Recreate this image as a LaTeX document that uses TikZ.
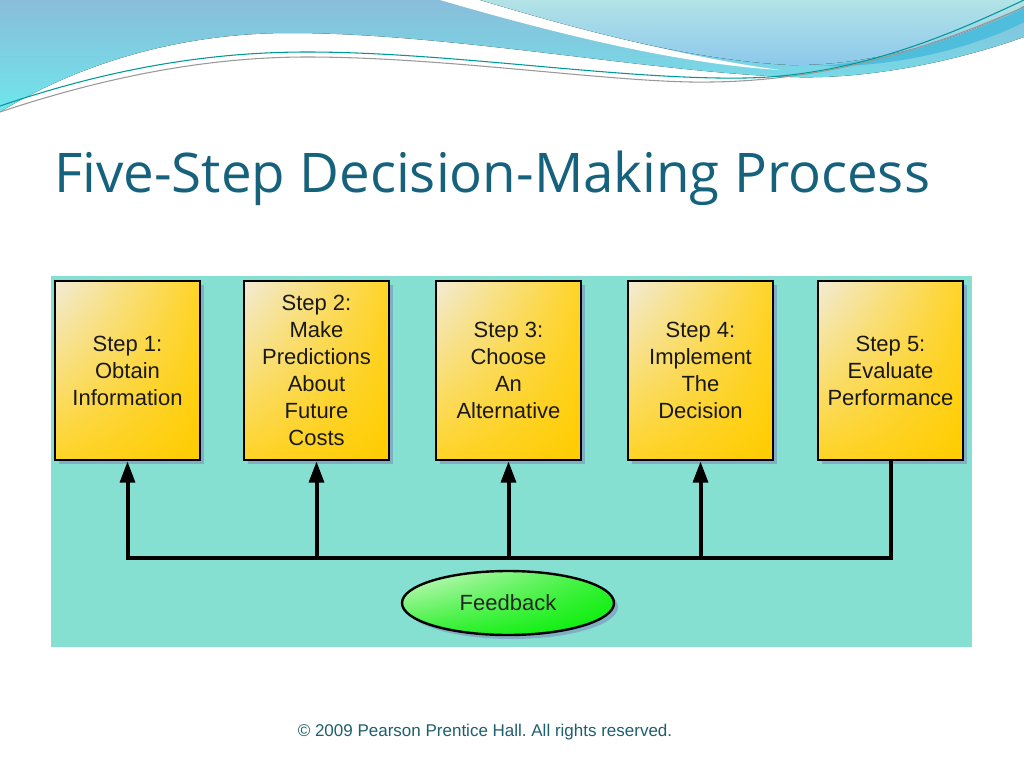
\documentclass[tikz,border=0pt]{standalone}
\usepackage{fontspec}
\setmainfont{Liberation Sans}
\newfontfamily\titlefont{Open Sans}
\usetikzlibrary{shapes.geometric,shadows,shadings,arrows.meta}
\frenchspacing
\definecolor{panel}{HTML}{85E0D2}
\definecolor{gold}{HTML}{FFCC00}
\definecolor{goldlight}{HTML}{F2EBD6}
\definecolor{lime}{HTML}{00EE00}
\definecolor{limelight}{HTML}{D8F8D0}
\definecolor{shadowblue}{HTML}{7FA3C0}
\definecolor{titleblue}{HTML}{16627C}
\definecolor{footteal}{HTML}{1E5F6E}
\definecolor{waveA}{HTML}{89BDDA}
\definecolor{waveB}{HTML}{6EE6EC}
\definecolor{waveC}{HTML}{B2E3E6}
\definecolor{waveD}{HTML}{8CC8EC}
\definecolor{band}{HTML}{4FBEDC}
\tikzset{
    stepbox/.style={draw=black, line width=1.8pt, minimum width=108.75pt, minimum height=134.25pt,
        inner sep=0pt, align=center, font=\fontsize{16.5}{20.25}\selectfont, text=black!90,
        upper left=goldlight, upper right=gold!85!white, lower left=gold!85!white, lower right=gold,
        drop shadow={shadow xshift=3pt, shadow yshift=-3pt, fill=shadowblue, opacity=0.8}},
    feednode/.style={ellipse, draw=black, line width=1.8pt, minimum width=159pt, minimum height=48pt,
        inner sep=0pt, font=\fontsize{16.5}{20}\selectfont, text=black!85,
        upper left=limelight, upper right=lime!80!white, lower left=lime!80!white, lower right=lime,
        drop shadow={shadow xshift=3pt, shadow yshift=-3pt, fill=shadowblue, opacity=0.8}},
    busline/.style={line width=3pt, line cap=rect},
    uparrow/.style={line width=3pt, -{Triangle[length=16pt,width=11pt]}}
}
\begin{document}
\begin{tikzpicture}[x=0.75pt, y=-0.75pt]
    \useasboundingbox (0,0) rectangle (1024,768);
    \fill[white] (0,0) rectangle (1024,768);
    % waves at the top
    \fill[top color=waveA, bottom color=waveB] (0,0) -- (1024,0) -- (1024,37)
        .. controls (960,60) and (870,80) .. (790,77)
        .. controls (650,72) and (450,33) .. (290,33)
        .. controls (160,33) and (60,75) .. (0,112) -- cycle;
    \fill[white] (440,0) .. controls (560,35) and (680,64) .. (780,70)
        .. controls (690,58) and (580,30) .. (480,0) -- cycle;
    \fill[top color=waveC, bottom color=waveD] (480,0) .. controls (580,30) and (690,60) .. (790,65)
        .. controls (880,66) and (970,35) .. (1024,6) -- (1024,0) -- cycle;
    \fill[band] (820,66) .. controls (900,60) and (980,30) .. (1024,8)
        -- (1024,22) .. controls (980,45) and (900,68) .. (820,66) -- cycle;
    \draw[color=teal!80!cyan, line width=0.8pt] (0,106) .. controls (120,65) and (220,52) .. (307,52)
        .. controls (450,52) and (620,80) .. (745,78) .. controls (860,76) and (960,30) .. (1024,0);
    \draw[color=gray!80, line width=0.8pt] (0,112) .. controls (120,72) and (220,57) .. (307,57)
        .. controls (450,57) and (620,84) .. (712,82) .. controls (850,80) and (960,35) .. (1024,7);
    % title
    \node[anchor=base west, inner sep=0pt, text=titleblue, font=\titlefont\fontsize{41}{50}\selectfont]
        (title) at (54,192) {Five-Step Decision-Making Process};
    % panel
    \fill[panel] (51,276) rectangle (972,647);
    \foreach \i/\x/\t in {1/127.5/{Step 1:\\Obtain\\Information},
        2/316.5/{Step 2:\\Make\\Predictions\\About\\Future\\Costs},
        3/508.5/{Step 3:\\Choose\\An\\Alternative},
        4/700.5/{Step 4:\\Implement\\The\\Decision},
        5/890.5/{Step 5:\\Evaluate\\Performance}}{
        \node[stepbox] (s\i) at (\x,370.5) {\t};
    }
    \coordinate (bus) at (0,558);
    \foreach \i in {1,...,5}{
        \coordinate (b\i) at (s\i.south |- bus);
    }
    \draw[busline] (s5.south) -- (b5) -- (b1);
    \foreach \i in {1,...,4}{
        \draw[uparrow] (b\i) -- (s\i.south);
    }
    \node[feednode] (fb) at (508,603) {Feedback};
    % footer
    \node[anchor=base, inner sep=0pt, text=footteal, font=\fontsize{12.75}{15}\selectfont]
        (foot) at (485,736) {© 2009 Pearson Prentice Hall. All rights reserved.};
\end{tikzpicture}
\end{document}
